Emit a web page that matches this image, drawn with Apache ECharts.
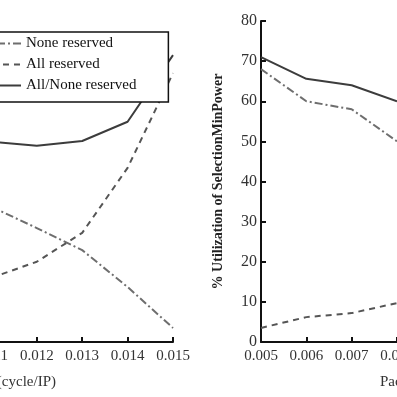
<!DOCTYPE html>
<html>
<head>
<meta charset="utf-8">
<script src="https://cdn.jsdelivr.net/npm/echarts@6/dist/echarts.min.js"></script>
<style>
  html, body { margin: 0; padding: 0; background: #fff; }
  #chart { width: 397px; height: 397px; }
</style>
</head>
<body>
<div id="chart"></div>
<script>
  // left panel (only the right part is in view)
  var leftRate = [0.011, 0.012, 0.013, 0.014, 0.015];
  var leftNone = [33.7, 28.4, 22.9, 13.7, 3.5];
  var leftAll = [16, 20, 27.2, 43.4, 67];
  var leftAllNone = [49.9, 48.9, 50.1, 54.9, 71.5];

  // right panel (only the left part is in view)
  var rightRate = [0.005, 0.006, 0.007, 0.008];
  var rightNone = [68, 60, 58, 50];
  var rightAll = [3.5, 6.2, 7.2, 9.7];
  var rightAllNone = [71, 65.6, 64, 60];

  var seriesNames = ['None reserved', 'All reserved', 'All/None reserved'];
  var xName = 'Packet injection rate (cycle/IP)';
  var yName = '% Utilization of SelectionMinPower';

  var font = 'Liberation Serif';

  function pairs(xs, ys) {
    return xs.map(function (x, i) { return [x, ys[i]]; });
  }

  // 线型
  var styles = [
    {color: '#6e6e6e', type: [8, 3, 2, 3], width: 2},
    {color: '#555555', type: [6, 5], width: 2},
    {color: '#3c3c3c', type: 'solid', width: 2}
  ];

  function makeSeries(name, idx, data, axisIdx) {
    return {
      name: name,
      type: 'line',
      xAxisIndex: axisIdx,
      yAxisIndex: axisIdx,
      symbol: 'none',
      data: data,
      lineStyle: styles[idx],
      itemStyle: {color: styles[idx].color},
      z: 2
    };
  }

  function xAxisCfg(gridIdx, min, max) {
    return {
      type: 'value',
      gridIndex: gridIdx,
      min: min,
      max: max,
      interval: 0.001,
      axisLine: {lineStyle: {color: '#111', width: 2}},
      axisTick: {inside: true, length: 5, lineStyle: {color: '#111', width: 2}},
      axisLabel: {
        margin: 7,
        fontFamily: font,
        fontSize: 15,
        color: '#333',
        formatter: function (v) { return v.toFixed(3); }
      },
      splitLine: {show: false}
    };
  }

  var chart = echarts.init(document.getElementById('chart'));
  var option = {
    backgroundColor: '#fff',
    animation: false,
    grid: [
      {left: -54, right: 224, top: 21, bottom: 55, outerBoundsMode: 'none', containLabel: false},
      {left: 261, right: 0, top: 21, bottom: 55, outerBoundsMode: 'none', containLabel: false}
    ],
    xAxis: [
      xAxisCfg(0, 0.010, 0.015),
      xAxisCfg(1, 0.005, 0.008)
    ],
    yAxis: [
      {type: 'value', gridIndex: 0, min: 0, max: 80, interval: 10, show: false},
      {
        type: 'value',
        gridIndex: 1,
        min: 0,
        max: 80,
        interval: 10,
        name: yName,
        nameLocation: 'middle',
        nameGap: 36,
        nameTextStyle: {fontFamily: font, fontSize: 14, fontWeight: 'bold', color: '#222'},
        axisLine: {show: true, lineStyle: {color: '#111', width: 2}},
        axisTick: {show: true, inside: true, length: 5, lineStyle: {color: '#111', width: 2}},
        axisLabel: {margin: 4, fontFamily: font, fontSize: 16, color: '#333'},
        splitLine: {show: false}
      }
    ],
    legend: {
      data: seriesNames,
      orient: 'vertical',
      left: -30,
      top: 32,
      itemWidth: 40,
      itemHeight: 14,
      itemGap: 6,
      padding: [4, 32, 9, 10],
      backgroundColor: '#fff',
      borderColor: '#111',
      borderWidth: 1.5,
      itemStyle: {opacity: 0},
      textStyle: {fontFamily: font, fontSize: 15, color: '#111'},
      z: 5
    },
    graphic: [
      {type: 'text', x: 56, y: 382, style: {text: xName, font: '15px "Liberation Serif"', fill: '#333', align: 'right', verticalAlign: 'middle'}},
      {type: 'text', x: 380, y: 382, style: {text: xName, font: '15px "Liberation Serif"', fill: '#333', align: 'left', verticalAlign: 'middle'}}
    ],
    series: [
      makeSeries(seriesNames[0], 0, pairs(leftRate, leftNone), 0),
      makeSeries(seriesNames[1], 1, pairs(leftRate, leftAll), 0),
      makeSeries(seriesNames[2], 2, pairs(leftRate, leftAllNone), 0),
      makeSeries(seriesNames[0], 0, pairs(rightRate, rightNone), 1),
      makeSeries(seriesNames[1], 1, pairs(rightRate, rightAll), 1),
      makeSeries(seriesNames[2], 2, pairs(rightRate, rightAllNone), 1)
    ]
  };
  chart.setOption(option);
</script>
</body>
</html>
